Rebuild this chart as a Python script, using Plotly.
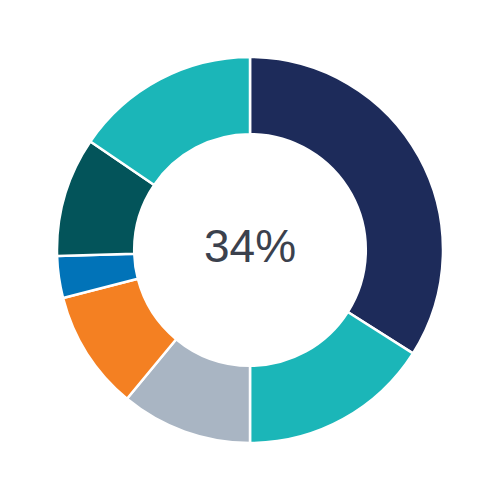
import plotly.graph_objects as go

labels = ["A", "B", "C", "D", "E", "F", "G"]
values = [34, 16, 11, 10, 3.5, 10, 15.5]
colors = ["#1d2b5a", "#1bb6b8", "#a9b5c3", "#f48022", "#0173b8", "#03545a", "#1bb6b8"]
center_text = "34%"

fig = go.Figure(go.Pie(
    labels=labels, values=values, hole=0.6, sort=False, direction="clockwise",
    rotation=0, textinfo="none", hoverinfo="none",
    marker=dict(colors=colors, line=dict(color="white", width=2.5)),
))
fig.update_layout(
    width=500, height=500, showlegend=False,
    margin=dict(l=49, r=65, t=49, b=65),
    paper_bgcolor="white", plot_bgcolor="white",
    annotations=[dict(text=center_text, x=0.5, y=0.51, xref="paper", yref="paper",
                      showarrow=False, font=dict(family="Liberation Sans, Arial", size=46, color="#3b414d"))],
)
fig.write_html("out.html")
